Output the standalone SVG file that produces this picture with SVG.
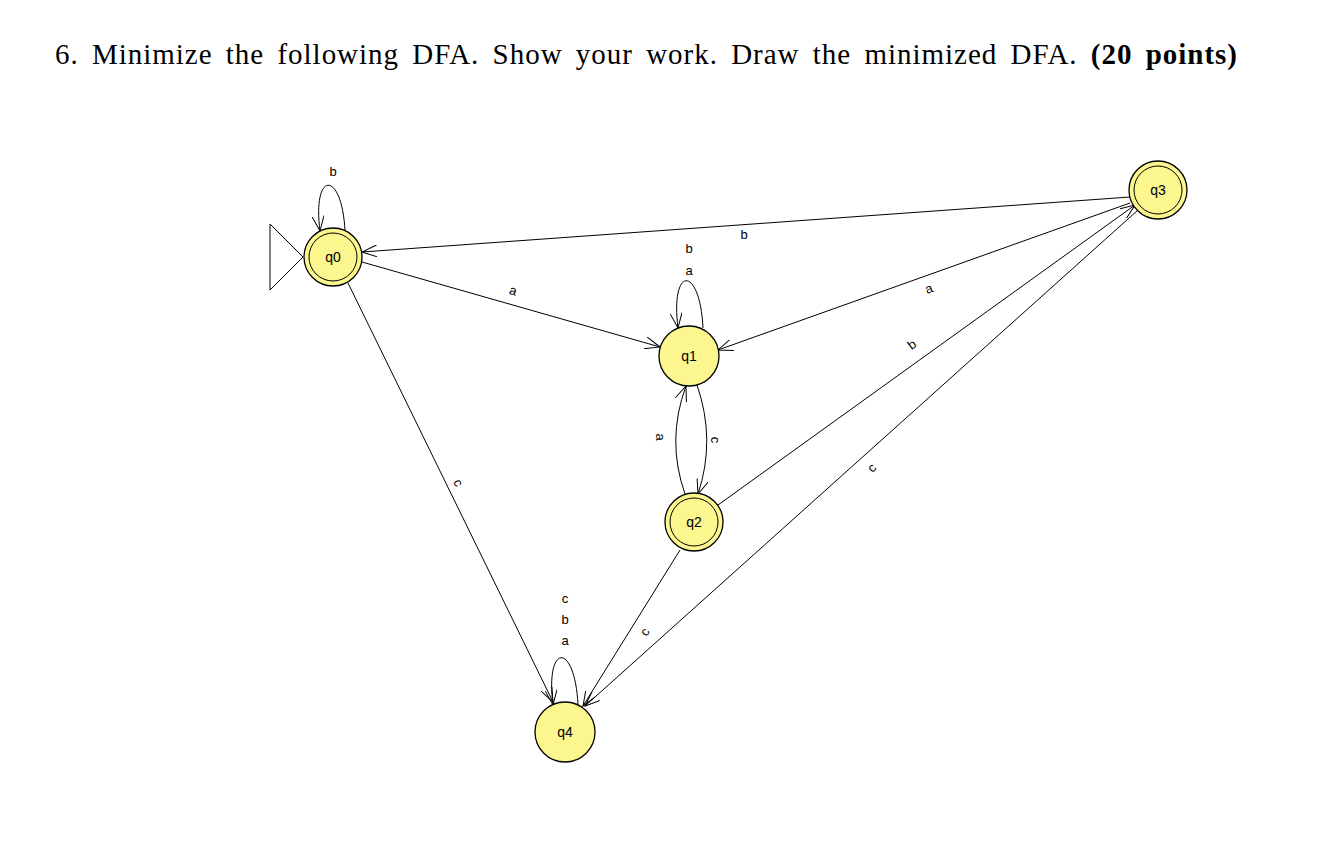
<svg xmlns="http://www.w3.org/2000/svg" width="1327" height="861" viewBox="0 0 1327 861">
<style>
.t{font-family:"Liberation Serif",serif;font-size:29px;fill:#000;word-spacing:5px}
.st{fill:#fbf68e;stroke:#000;stroke-width:1.3}
.in{fill:none;stroke:#000;stroke-width:1}
.nl{font-family:"Liberation Sans",sans-serif;font-size:14px;text-anchor:middle;fill:#000}
.e{fill:none;stroke:#000;stroke-width:1;marker-end:url(#ah)}
.el{font-family:"Liberation Sans",sans-serif;font-size:13px;text-anchor:middle;fill:#000}
</style>
<defs><marker id="ah" viewBox="0 0 16 12" refX="15" refY="6" markerWidth="16" markerHeight="12" markerUnits="userSpaceOnUse" orient="auto"><path d="M0,0 L15,6 L0,12" fill="none" stroke="#000" stroke-width="1"/></marker></defs>
<rect width="1327" height="861" fill="#fff"/>
<text class="t" x="55" y="64" textLength="1182" lengthAdjust="spacing">6.   Minimize the following DFA.  Show  your work.  Draw the minimized DFA.  <tspan font-weight="bold">(20 points)</tspan></text>
<g id="connectors">
<path class="e" d="M1130,197 L362,252"/>
<text class="el" x="744" y="239">b</text>
<path class="e" d="M362,262 L660,347"/>
<text class="el" x="513" y="295" transform="rotate(16 513 291)">a</text>
<path class="e" d="M1130,203 L718,350"/>
<text class="el" x="929" y="293" transform="rotate(-20 929 289)">a</text>
<path class="e" d="M718,505 L1135,205"/>
<text class="el" x="912" y="349" transform="rotate(-36 912 345)">b</text>
<path class="e" d="M1138,210 L585,706"/>
<text class="el" x="872" y="472" transform="rotate(-42 872 468)">c</text>
<path class="e" d="M680,550 L583,706"/>
<text class="el" x="645" y="636" transform="rotate(-58 645 632)">c</text>
<path class="e" d="M348,283 L553,702"/>
<text class="el" x="458" y="487" transform="rotate(64 458 483)">c</text>
<path class="e" d="M697,385 Q716,440 698,494"/>
<text class="el" x="715" y="444" transform="rotate(90 715 440)">c</text>
<path class="e" d="M685,494 Q666,440 686,386"/>
<text class="el" x="660" y="441" transform="rotate(90 660 437)">a</text>
<path class="e" d="M345,231 C342,170 312,170 320,231"/>
<text class="el" x="333" y="176">b</text>
<path class="e" d="M703,328 C700,265 670,265 678,328"/>
<text class="el" x="689" y="253">b</text>
<text class="el" x="689" y="275">a</text>
<path class="e" d="M578,705 C575,642 545,642 553,705"/>
<text class="el" x="565" y="603">c</text>
<text class="el" x="565" y="624">b</text>
<text class="el" x="565" y="645">a</text>
</g>
<g id="q0"><path class="in" d="M270,224 L303,257 L270,290 Z"/><circle class="st" cx="333" cy="257" r="29"/><circle class="in" cx="333" cy="257" r="24"/><text class="nl" x="333" y="262">q0</text></g>
<g id="q1"><circle class="st" cx="689" cy="356" r="30"/><text class="nl" x="689" y="361">q1</text></g>
<g id="q2"><circle class="st" cx="694" cy="522" r="29"/><circle class="in" cx="694" cy="522" r="24"/><text class="nl" x="694" y="527">q2</text></g>
<g id="q3"><circle class="st" cx="1158" cy="190" r="29"/><circle class="in" cx="1158" cy="190" r="24"/><text class="nl" x="1158" y="195">q3</text></g>
<g id="q4"><circle class="st" cx="565" cy="732" r="30"/><text class="nl" x="565" y="737">q4</text></g>
</svg>
